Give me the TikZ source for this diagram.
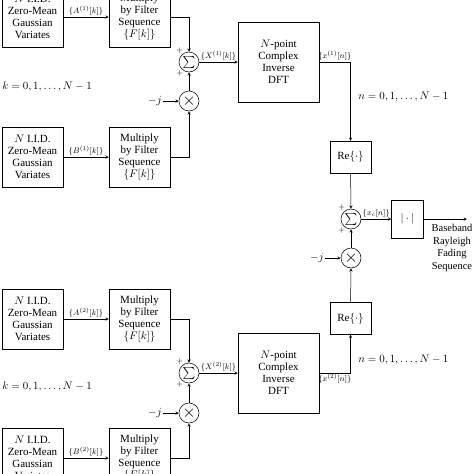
\documentclass[tikz,border=0pt]{standalone}
\usepackage{amsmath}
\usepackage{fontspec}
\setmainfont{Liberation Serif}
\usetikzlibrary{positioning,calc}

\begin{document}
\begin{tikzpicture}[x=1pt, y=-1pt, >=stealth, line width=0.5pt,
    font=\fontsize{11}{12}\selectfont,
    gen/.style={draw, align=center, minimum width=61pt, minimum height=60pt, inner sep=1pt},
    dftbox/.style={draw, align=center, minimum width=81pt, minimum height=80pt},
    opbox/.style={draw, minimum width=41pt, minimum height=32pt},
    junc/.style={draw, circle, minimum size=20pt, inner sep=0pt, font=\large,
        label={[pl]125:$+$}, label={[pl]235:$+$}},
    mulc/.style={draw, circle, minimum size=20pt, inner sep=0pt, font=\LARGE},
    pl/.style={font=\footnotesize, inner sep=0pt, label distance=0pt},
    lbl/.style={font=\footnotesize, inner sep=1pt}]
    \useasboundingbox (0,0) rectangle (474,474);
    \clip (0,0) rectangle (474,474);

    % first branch
    \node (gA1) [gen] at (32.5,17) {$N$ I.I.D.\\Zero-Mean\\Gaussian\\Variates};
    \node (mA1) [gen] at (139.5,17) {Multiply\\by Filter\\Sequence\\$\{F[k]\}$};
    \node (gB1) [gen] at (32.5,157) {$N$ I.I.D.\\Zero-Mean\\Gaussian\\Variates};
    \node (mB1) [gen] at (139.5,157) {Multiply\\by Filter\\Sequence\\$\{F[k]\}$};
    \node (sum1) [junc] at (189,62) {$\sum$};
    \node (mul1) [mulc] at (189,101) {$\times$};
    \node (j1) [anchor=east, inner sep=1pt] at (163,101) {$-j$};
    \node (k1) [anchor=west, inner sep=0pt] at (2,87) {$k=0,1,\ldots,N-1$};
    \node (dft1) [dftbox] at (278.5,62) {$N$-point\\Complex\\Inverse\\DFT};
    \node (re1) [opbox] at (350.5,157) {Re$\{\cdot\}$};
    \node (n1) [anchor=west, inner sep=0pt] at (358,97) {$n=0,1,\ldots,N-1$};

    % second branch
    \node (gA2) [gen] at (32.5,319) {$N$ I.I.D.\\Zero-Mean\\Gaussian\\Variates};
    \node (mA2) [gen] at (139.5,319) {Multiply\\by Filter\\Sequence\\$\{F[k]\}$};
    \node (gB2) [gen] at (32.5,458) {$N$ I.I.D.\\Zero-Mean\\Gaussian\\Variates};
    \node (mB2) [gen] at (139.5,458) {Multiply\\by Filter\\Sequence\\$\{F[k]\}$};
    \node (sum3) [junc] at (189,373) {$\sum$};
    \node (mul3) [mulc] at (189,413) {$\times$};
    \node (j3) [anchor=east, inner sep=1pt] at (163,413) {$-j$};
    \node (k3) [anchor=west, inner sep=0pt] at (2,387) {$k=0,1,\ldots,N-1$};
    \node (dft2) [dftbox] at (278.5,373) {$N$-point\\Complex\\Inverse\\DFT};
    \node (re2) [opbox] at (350.5,318.5) {Re$\{\cdot\}$};
    \node (n2) [anchor=west, inner sep=0pt] at (358,360) {$n=0,1,\ldots,N-1$};

    % combining
    \node (sum2) [junc] at (351,219) {$\sum$};
    \node (mul2) [mulc] at (351,258) {$\times$};
    \node (j2) [anchor=east, inner sep=1pt] at (325,258) {$-j$};
    \node (absv) [draw, minimum width=32pt, minimum height=38pt] at (407.5,219) {$|\cdot|$};
    \coordinate (out) at (467,219);
    \node (outl) [align=center, font=\fontsize{10.5}{12.5}\selectfont, inner sep=0pt] at (452,248) {Baseband\\Rayleigh\\Fading\\Sequence};

    \draw[->] (gA1) -- node[lbl, above] {$\{A^{(1)}[k]\}$} (mA1);
    \draw[->] (gB1) -- node[lbl, above] {$\{B^{(1)}[k]\}$} (mB1);
    \draw[->] (mA1.east) -| (sum1.north);
    \draw[->] (mB1.east) -| (mul1.south);
    \draw[->] (mul1) -- (sum1);
    \draw[->] (j1) -- (mul1);
    \draw[->] (sum1) -- node[lbl, above] {$\{X^{(1)}[k]\}$} (dft1);
    \draw[->] (dft1.east) -- node[lbl, above] {$\{x^{(1)}[n]\}$} (dft1.east -| re1) -- (re1);
    \draw[->] (re1) -- (sum2);

    \draw[->] (gA2) -- node[lbl, above] {$\{A^{(2)}[k]\}$} (mA2);
    \draw[->] (gB2) -- node[lbl, above] {$\{B^{(2)}[k]\}$} (mB2);
    \draw[->] (mA2.east) -| (sum3.north);
    \draw[->] (mB2.east) -| (mul3.south);
    \draw[->] (mul3) -- (sum3);
    \draw[->] (j3) -- (mul3);
    \draw[->] (sum3) -- node[lbl, above] {$\{X^{(2)}[k]\}$} (dft2);
    \draw[->] (dft2.east) -- node[lbl, below] {$\{x^{(2)}[n]\}$} (dft2.east -| re2) -- (re2);
    \draw[->] (re2) -- (mul2);

    \draw[->] (j2) -- (mul2);
    \draw[->] (mul2) -- (sum2);
    \draw[->] (sum2) -- node[lbl, above] {$\{x_c[n]\}$} (absv);
    \draw[->] (absv) -- (out);
\end{tikzpicture}
\end{document}
